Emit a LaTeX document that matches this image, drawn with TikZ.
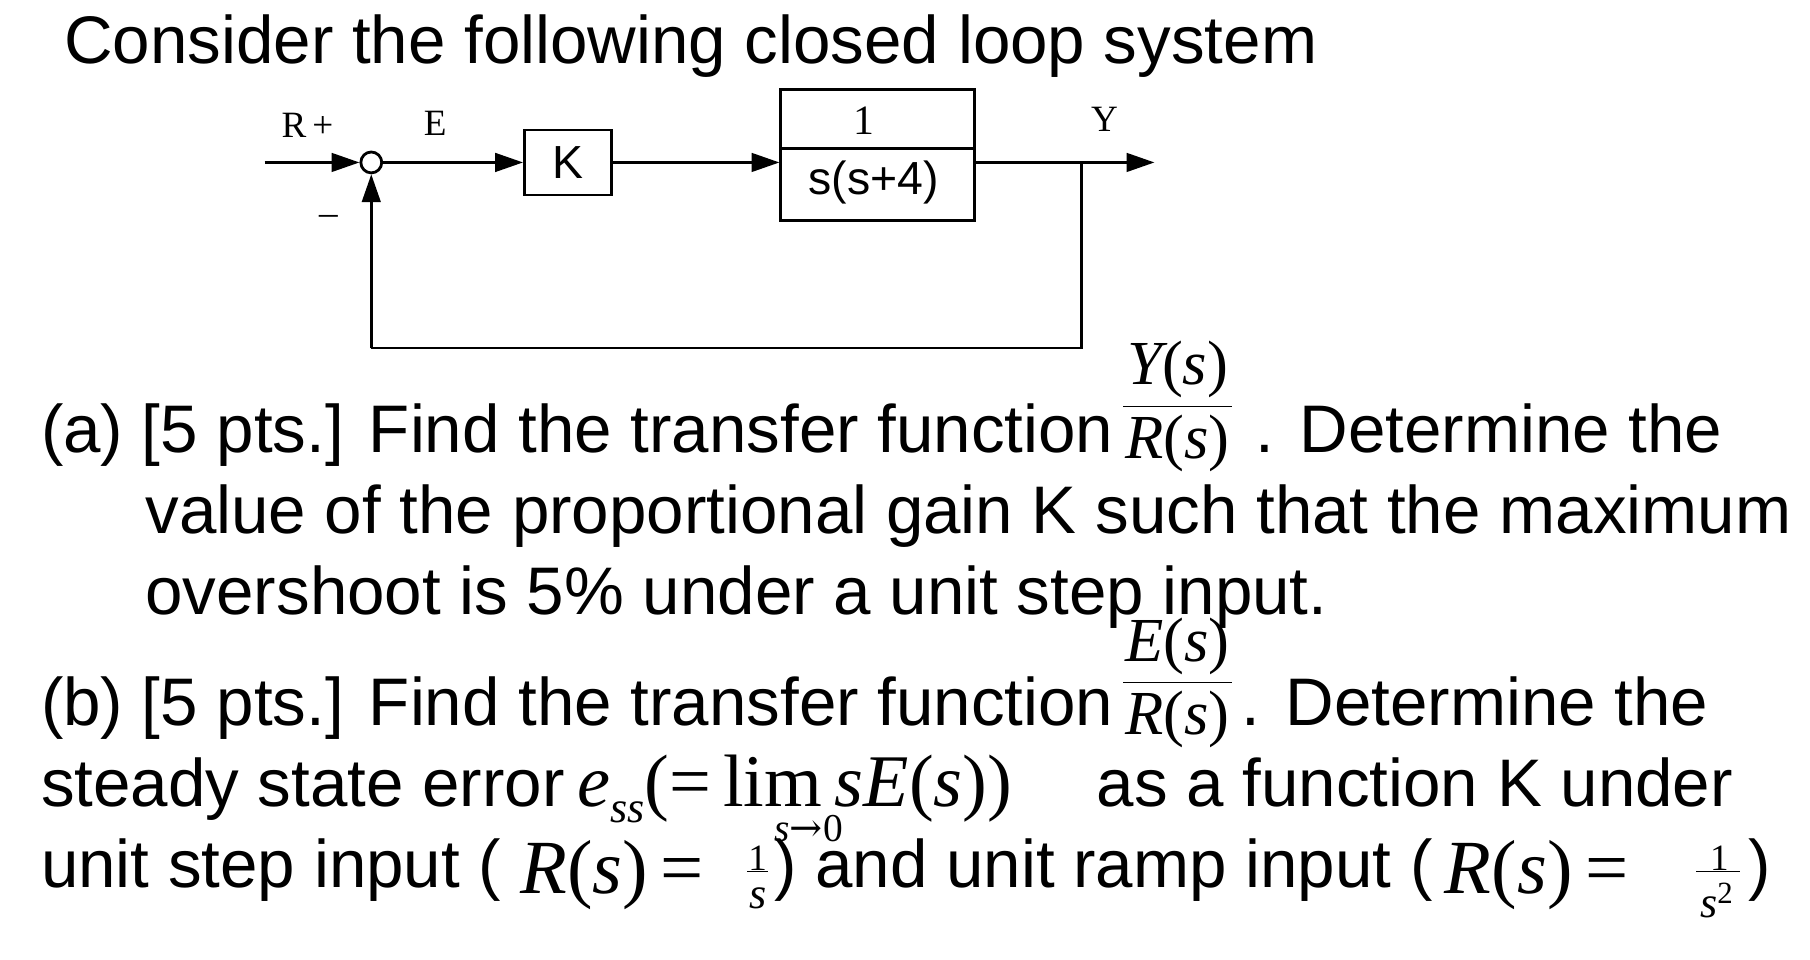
\documentclass[tikz,border=0pt]{standalone}
\usepackage{fontspec}
\setmainfont{Liberation Sans}
\newfontfamily\tms{Liberation Serif}
\newfontfamily\arw{DejaVu Serif}
\usetikzlibrary{arrows.meta}
\newcommand{\mi}[1]{{\tms\itshape #1}}
\newcommand{\mr}[1]{{\tms #1}}
\begin{document}
\begin{tikzpicture}[x=0.5pt,y=-0.5pt,
  txt/.style={anchor=base west,inner sep=0,font=\fontsize{29}{32}\selectfont},
  ser/.style={inner sep=0,font=\tms\fontsize{16}{18}\selectfont},
  mth/.style={inner sep=0,font=\fontsize{27}{30}\selectfont},
  blk/.style={draw,line width=1.2pt,inner sep=0},
  ln/.style={line width=1.2pt},
  arr/.style={ln,-{Triangle[length=12pt,width=8pt]}}]
\useasboundingbox (0,0) rectangle (1560,827);
\node[txt] (t0) at (55,55) {Consider the following closed loop system};
% diagram
\coordinate (in) at (228,140);
\node[draw,circle,line width=1.2pt,minimum size=9pt,inner sep=0] (sum) at (320,140) {};
\node[blk,minimum width=37.5pt,minimum height=28pt,font=\fontsize{20}{22}\selectfont] (K) at (489.5,140) {K};
\node[blk,minimum width=83.5pt,minimum height=56.5pt] (G) at (756.5,133.5) {};
\draw[ln] (673,128) -- (840,128);
\node[ser,font=\tms\fontsize{18}{18}\selectfont] (one) at (745,104) {1};
\node[inner sep=0,font=\fontsize{20}{22}\selectfont] (den) at (753,157) {s(s+4)};
\node[ser] (R) at (265,108) {R\,+};
\node[ser] (E) at (375,106) {E};
\node[ser] (Y) at (952,103) {Y};
\node[ser] (m) at (283,185) {\_};
\coordinate (br) at (932,140);
\coordinate (out) at (995,140);
\coordinate (b1) at (932,300);
\coordinate (b2) at (320,300);
\draw[arr] (in) -- (sum.west);
\draw[arr] (sum.east) -- (K.west);
\draw[arr] (K.east) -- (G.west |- K.east);
\draw[arr] (G.east |- br) -- (out);
\draw[ln] (br) -- (b1) -- (b2);
\draw[arr] (b2) -- (sum.south);
% text (a)
\node[txt] (a1) at (35,390) {(a) [5 pts.] Find the transfer function};
\node[mth] (yn) at (1015,318) {\mi{Y}\mr{(}\mi{s}\mr{)}};
\draw (968,350) -- (1062,350);
\node[mth] (rd) at (1015,382) {\mi{R}\mr{(}\mi{s}\mr{)}};
\node[txt] (a2) at (1082,390) {. Determine the};
\node[txt] (a3) at (125,460) {value of the proportional gain K such that the maximum};
\node[txt] (a4) at (125,530) {overshoot is 5\% under a unit step input.};
% text (b)
\node[txt] (b1t) at (35,625) {(b) [5 pts.] Find the transfer function};
\node[mth] (en) at (1015,557) {\mi{E}\mr{(}\mi{s}\mr{)}};
\draw (968,588) -- (1062,588);
\node[mth] (rd2) at (1015,620) {\mi{R}\mr{(}\mi{s}\mr{)}};
\node[txt] (b2t) at (1070,625) {. Determine the};
\node[txt] (b3) at (35,695) {steady state error};
\node[txt,font=\fontsize{32}{34}\selectfont] (ess) at (497,695) {\mi{e}\raisebox{-7pt}{\fontsize{19}{20}\selectfont\mi{ss}}\mr{(=\,lim\,}\mi{sE}\mr{(}\mi{s}\mr{))}};
\node[inner sep=0,font=\fontsize{17}{18}\selectfont] (lim) at (697,714) {\mi{s}{\arw →}\mr{0}};
\node[txt] (b4) at (945,695) {as a function K under};
\node[txt] (b5) at (35,765) {unit step input (};
\node[txt,font=\fontsize{33}{36}\selectfont] (rs1) at (448,770) {\mi{R}\mr{(}\mi{s}\mr{)\,=}};
\node[inner sep=0,font=\fontsize{16}{16}\selectfont] (f1n) at (653,740) {\mr{1}};
\draw (644,751) -- (662,751);
\node[inner sep=0,font=\fontsize{19}{18}\selectfont] (f1d) at (653,774) {\mi{s}};
\node[txt] (b6) at (667,765) {) and unit ramp input (};
\node[txt,font=\fontsize{33}{36}\selectfont] (rs2) at (1245,770) {\mi{R}\mr{(}\mi{s}\mr{)\,=}};
\node[inner sep=0,font=\fontsize{16}{16}\selectfont] (f2n) at (1482,740) {\mr{1}};
\draw (1462,751) -- (1500,751);
\node[inner sep=0,font=\fontsize{19}{18}\selectfont] (f2d) at (1480,776) {\mi{s}\textsuperscript{\mr{2}}};
\node[txt] (b7) at (1507,765) {)};
\end{tikzpicture}
\end{document}
